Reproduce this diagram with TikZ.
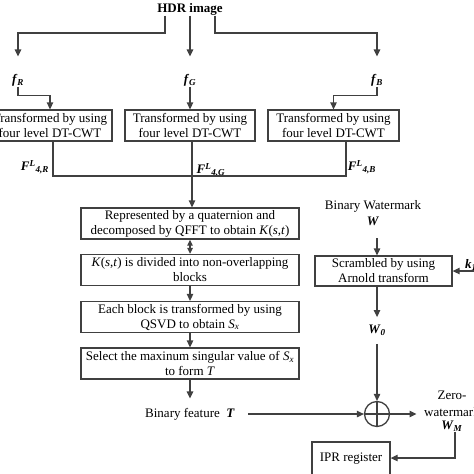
\documentclass[tikz,border=0pt]{standalone}
\usepackage{fontspec}
\setmainfont{Liberation Serif}
\usetikzlibrary{arrows.meta,calc}
\newcommand\bfit[1]{\textbf{\textit{#1}}}
\begin{document}
\begin{tikzpicture}[x=1pt,y=-1pt,
  line width=1.3pt,
  arr/.style={draw=black!75,-{Triangle[length=7pt,width=6.5pt]}},
  ln/.style={draw=black!75},
  txt/.style={inner sep=0pt,font=\fontsize{13}{15}\selectfont,align=center},
  box/.style={draw=black!75,inner sep=1pt,font=\fontsize{13}{15}\selectfont,align=center,minimum height=31pt},
]
\useasboundingbox (0,0) rectangle (474,474);
% top
\node[txt,font=\fontsize{13}{15}\selectfont\bfseries] (hdr) at (190,9) {HDR image};
\node[txt] (fR) at (18,80) {\bfit{f}\textsubscript{\bfit{R}}};
\node[txt] (fG) at (190,80) {\bfit{f}\textsubscript{\bfit{G}}};
\node[txt] (fB) at (377,80) {\bfit{f}\textsubscript{\bfit{B}}};
\node[box,minimum width=124pt] (boxR) at (50,125.5) {Transformed by using\\four level DT-CWT};
\node[box,minimum width=130pt] (boxG) at (190,125.5) {Transformed by using\\four level DT-CWT};
\node[box,minimum width=131pt] (boxB) at (333.5,125.5) {Transformed by using\\four level DT-CWT};
\node[txt] (FR) at (35,167) {\bfit{F}\textsuperscript{\bfit{L}}\textsubscript{\bfit{4,R}}};
\node[txt] (FG) at (211,170) {\bfit{F}\textsuperscript{\bfit{L}}\textsubscript{\bfit{4,G}}};
\node[txt] (FB) at (362,167) {\bfit{F}\textsuperscript{\bfit{L}}\textsubscript{\bfit{4,B}}};
% left column
\node[box,minimum width=218pt] (b1) at (190,223.5) {Represented by a quaternion and\\decomposed by QFFT to obtain \textit{K}(\textit{s},\textit{t})};
\node[box,minimum width=218pt] (b2) at (190,270) {\textit{K}(\textit{s},\textit{t}) is divided into non-overlapping\\blocks};
\node[box,minimum width=218pt] (b3) at (190,317) {Each block is transformed by using\\QSVD to obtain \textit{S}\textsubscript{\textit{x}}};
\node[box,minimum width=218pt] (b4) at (190,363.5) {Select the maxinum singular value of \textit{S}\textsubscript{\textit{x}}\\to form \textit{T}};
\node[txt] (bf) at (190,414) {Binary feature\ \ \bfit{T}};
% right column
\node[txt] (bw) at (373,213) {Binary Watermark\\[1pt]\bfit{W}};
\node[box,minimum width=137pt,minimum height=30pt] (scr) at (383.5,271) {Scrambled by using\\Arnold transform};
\node[txt] (k1) at (471,265) {\bfit{k}\textsubscript{\bfit{1}}};
\node[txt] (w0) at (377,330) {\bfit{W}\textsubscript{\bfit{0}}};
\node[draw=black!75,circle,minimum size=25pt,inner sep=0pt] (xor) at (377,414) {};
\draw[ln] (xor.north) -- (xor.south) (xor.west) -- (xor.east);
\node[txt] (zw) at (452,411) {Zero-\\[2pt]watermark\\[-2pt]\bfit{W}\textsubscript{\bfit{M}}};
\node[box,minimum width=78pt,minimum height=34pt] (ipr) at (351,459) {IPR register};
% connectors
\coordinate (jR) at (18,33);
\coordinate (jB) at (377,33);
\draw[arr,shorten >=17pt] ([xshift=-25pt]hdr.south) |- (jR) -- (fR);
\draw[arr,shorten >=17pt] (hdr) -- (fG);
\draw[arr,shorten >=17pt] ([xshift=25pt]hdr.south) |- (jB) -- (fB);
\draw[arr] (fR) |- ([yshift=14pt]boxR.north) -- (boxR.north);
\draw[arr] (fG) -- (boxG);
\draw[arr] (fB) |- ([yshift=14pt]boxB.north) -- (boxB.north);
\coordinate (m) at (192,176);
\draw[ln] ([xshift=3pt]boxR.south) |- (m);
\draw[ln] ([xshift=12.5pt]boxB.south) |- (m);
\draw[arr] ([xshift=2pt]boxG.south) -- (m) -- ([xshift=2pt]b1.north);
\draw[draw=black!75,{Triangle[length=6pt,width=5.5pt]}-{Triangle[length=6pt,width=5.5pt]}] (b1) -- (b2);
\draw[arr] (b2) -- (b3);
\draw[arr] (b3) -- (b4);
\draw[arr,shorten >=9pt] (b4) -- (bf);
\draw[arr,shorten <=13pt] (bf) -- (xor);
\draw[arr,shorten >=7pt] (xor) -- (zw.west |- xor);
\draw[arr] ([xshift=3pt]zw.south) |- (ipr.east |- 0,458);
\draw[arr,shorten <=12pt] ([xshift=4pt]bw.south) -- ([xshift=-6.5pt]scr.north);
\coordinate (kin) at (480,271);
\draw[arr] (kin) -- (scr.east |- kin);
\draw[arr,shorten >=7pt] ([xshift=-6.5pt]scr.south) -- (w0.north);
\draw[arr,shorten <=8pt] (w0.south) -- (xor.north);
\end{tikzpicture}
\end{document}
